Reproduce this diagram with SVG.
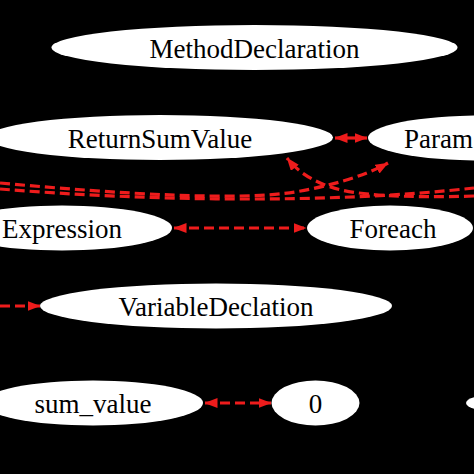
<svg xmlns="http://www.w3.org/2000/svg" width="474" height="474" viewBox="0 0 474 474">
<defs>
<marker id="ah" viewBox="0 0 13 10" refX="12.5" refY="5" markerWidth="13" markerHeight="10" markerUnits="userSpaceOnUse" orient="auto-start-reverse">
<path d="M0,0 L13,5 L0,10 z" fill="#ee1c1c"/>
</marker>
</defs>
<style>
.node ellipse{fill:#ffffff;stroke:none}
.node text{font-family:"Liberation Serif","Times New Roman",serif;font-size:27px;fill:#000000;text-anchor:middle}
.edge{fill:none;stroke:#ee1c1c;stroke-width:3.2;stroke-dasharray:10 5}
</style>
<rect x="0" y="0" width="474" height="474" fill="#000000"/>
<g id="connectors">
<path class="edge" d="M0,183 C120,194 240,201 295,192 C330,186 365,176 388,163" marker-end="url(#ah)"/>
<path class="edge" d="M0,189 C150,201 330,204 474,188"/>
<path class="edge" d="M474,196 C410,198 350,196 325,185 C305,177 295,168 287,158" marker-end="url(#ah)"/>
<path class="edge" d="M335,138 L367,138" style="stroke-dasharray:none" marker-start="url(#ah)" marker-end="url(#ah)"/>
<path class="edge" d="M174,228 L306,228" marker-start="url(#ah)" marker-end="url(#ah)"/>
<path class="edge" d="M0,306 L40,306" marker-end="url(#ah)"/>
<path class="edge" d="M205,403 L271,403" marker-start="url(#ah)" marker-end="url(#ah)"/>
</g>
<g id="MethodDeclaration" class="node"><ellipse cx="254.5" cy="47.5" rx="203" ry="22.5"/><text x="254.5" y="57.5">MethodDeclaration</text></g>
<g id="ReturnSumValue" class="node"><ellipse cx="160" cy="137.5" rx="173" ry="22.5"/><text x="160" y="147.5">ReturnSumValue</text></g>
<g id="Param" class="node"><ellipse cx="482" cy="138" rx="114" ry="22.5"/><text x="404" y="148" style="text-anchor:start">Param</text></g>
<g id="Expression" class="node"><ellipse cx="62" cy="228" rx="110" ry="22.5"/><text x="62" y="238">Expression</text></g>
<g id="Foreach" class="node"><ellipse cx="390" cy="228" rx="83" ry="22.5"/><text x="393" y="238">Foreach</text></g>
<g id="VariableDeclation" class="node"><ellipse cx="216" cy="306" rx="176" ry="22.5"/><text x="216" y="316">VariableDeclation</text></g>
<g id="sum_value" class="node"><ellipse cx="93" cy="403" rx="110" ry="22.5"/><text x="93" y="413">sum_value</text></g>
<g id="zero" class="node"><ellipse cx="315.5" cy="403" rx="44" ry="22.5"/><text x="315.5" y="413">0</text></g>
<g id="partial" class="node"><ellipse cx="500" cy="403" rx="34" ry="9"/></g>
</svg>
